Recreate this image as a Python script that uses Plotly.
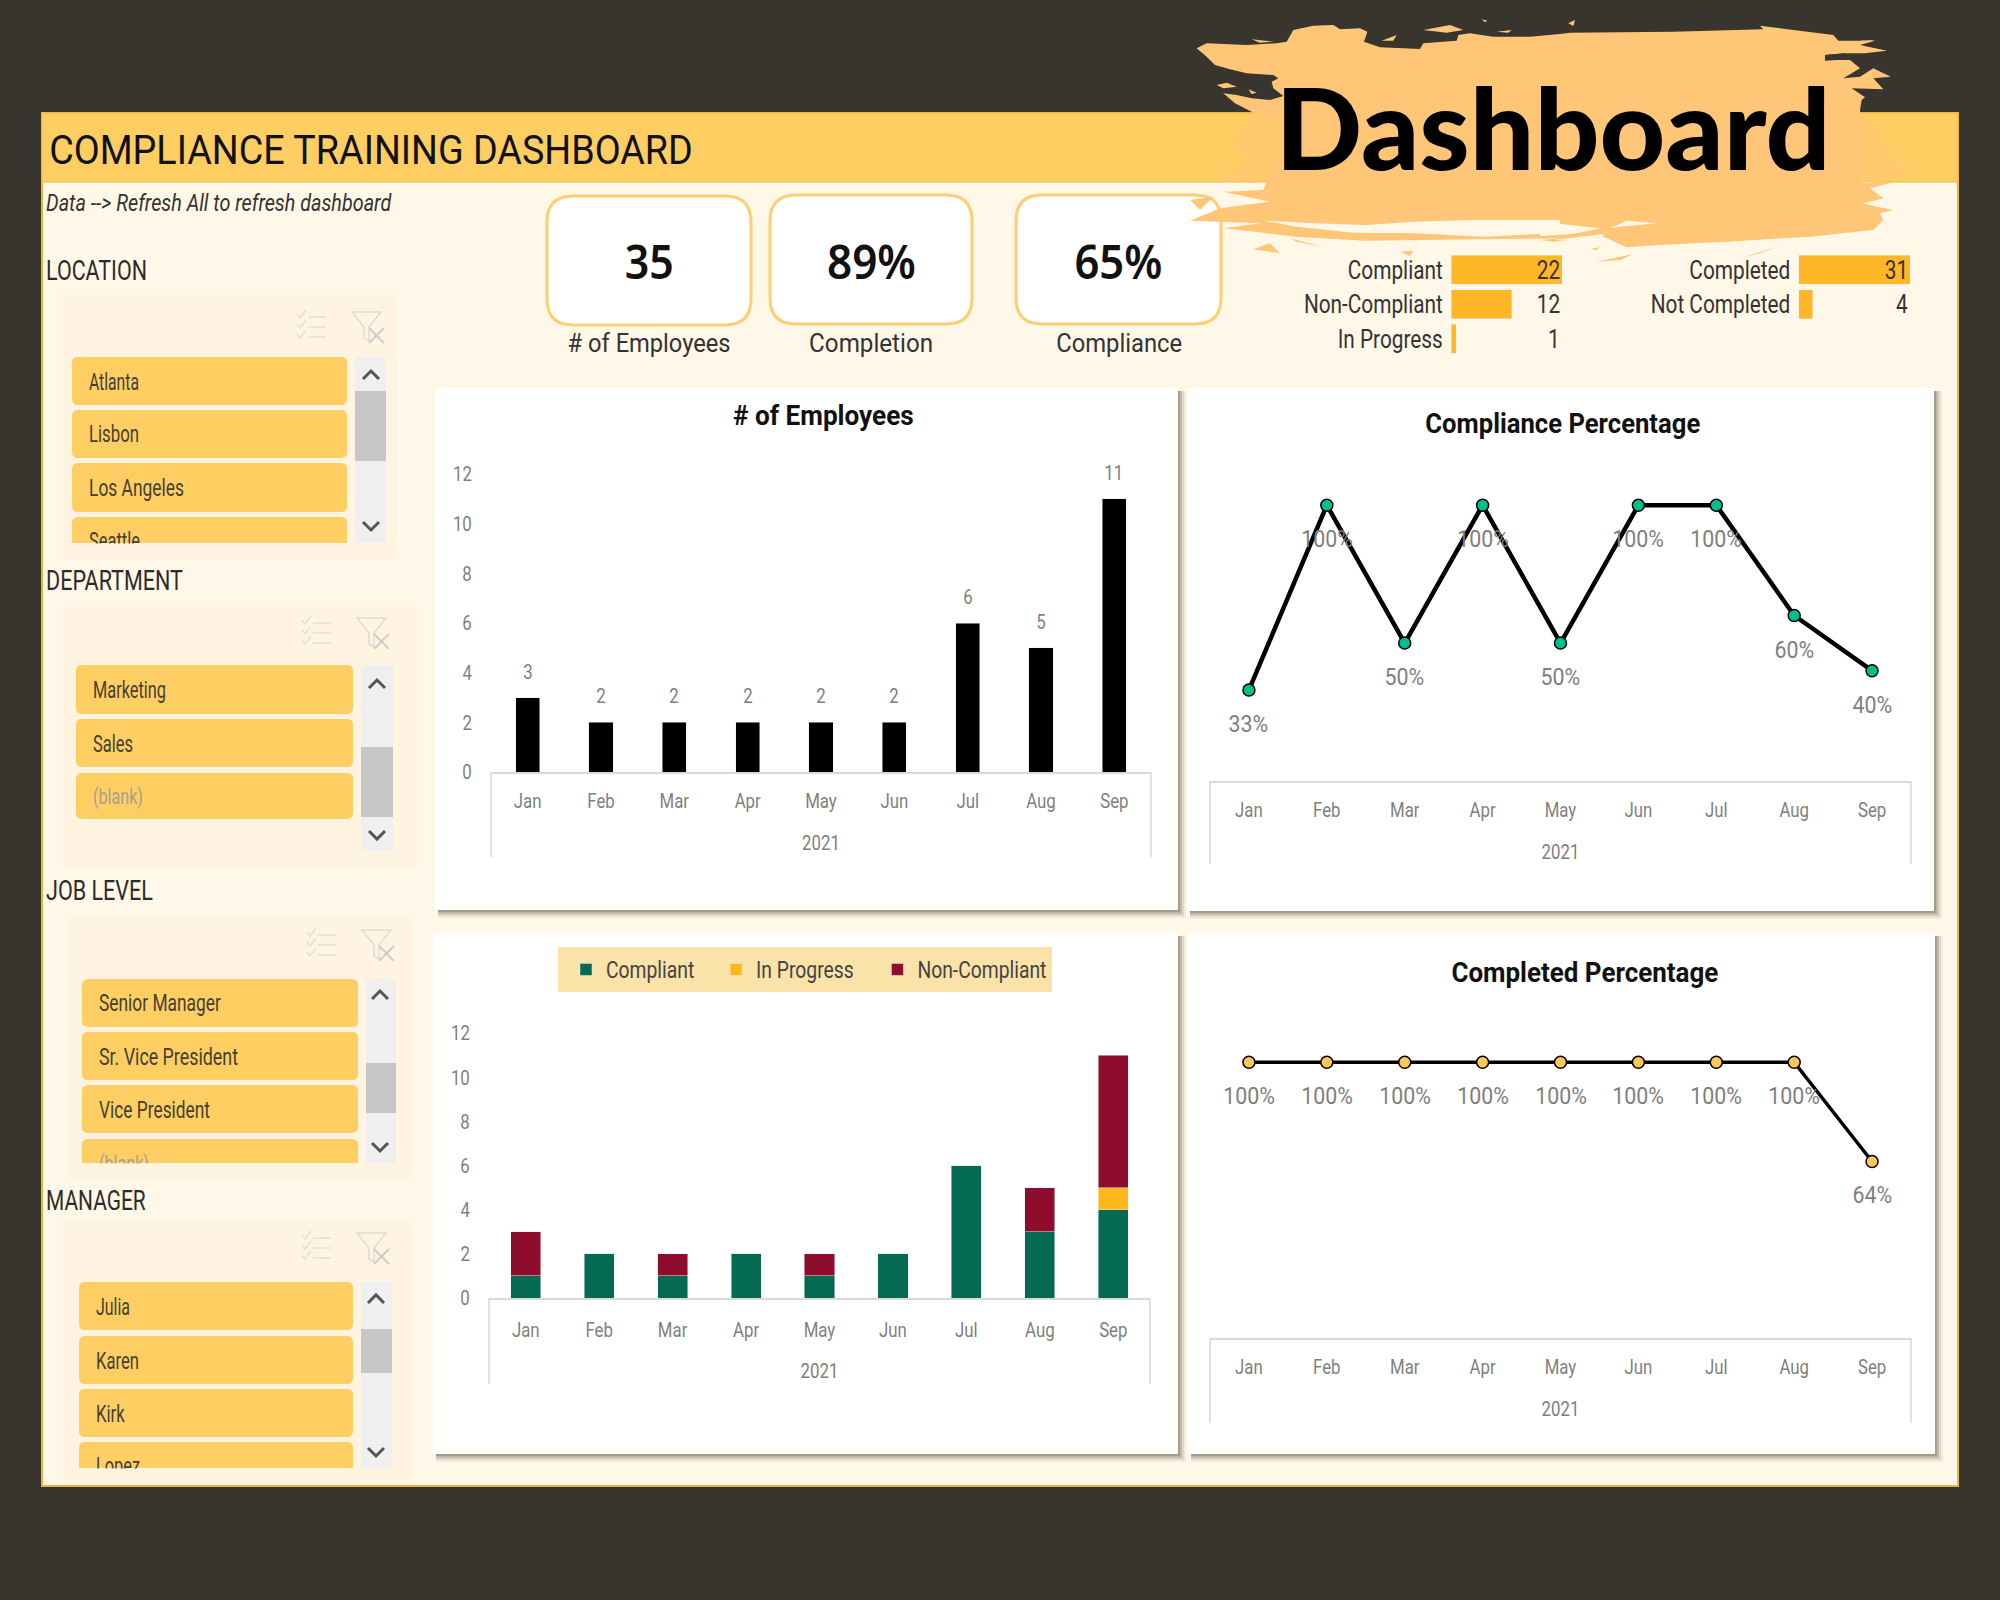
import plotly.graph_objects as go

W, H = 2000, 1600
months = ["Jan", "Feb", "Mar", "Apr", "May", "Jun", "Jul", "Aug", "Sep"]
employees = [3, 2, 2, 2, 2, 2, 6, 5, 11]
compliance_pct = [33, 100, 50, 100, 50, 100, 100, 60, 40]
completed_pct = [100, 100, 100, 100, 100, 100, 100, 100, 64]
compliant = [1, 2, 1, 2, 1, 2, 6, 3, 4]
in_progress = [0, 0, 0, 0, 0, 0, 0, 0, 1]
non_compliant = [2, 0, 1, 0, 1, 0, 0, 2, 6]
status_names = ["Compliant", "Non-Compliant", "In Progress"]
status_values = [22, 12, 1]
completion_names = ["Completed", "Not Completed"]
completion_values = [31, 4]
kpi_values = ["35", "89%", "65%"]
kpi_labels = ["# of Employees", "Completion", "Compliance"]
year = "2021"

NARROW = "Roboto, sans-serif"
BG = "#38352E"; CREAM = "#FFF7E7"; YEL = "#FFCE62"; GREY = "#7F7F7F"; AXL = "#D9D9D9"; BRUSH = "#FFC677"


def X(x):
    return x / W


def Y(y):
    return 1 - y / H


def poly(points, close=True):
    s = "M " + " L ".join(f"{X(a):.5f},{Y(b):.5f}" for a, b in points)
    return s + (" Z" if close else "")


def rrect(x0, y0, x1, y1, r):
    return (f"M {X(x0+r):.5f},{Y(y0):.5f} L {X(x1-r):.5f},{Y(y0):.5f} Q {X(x1):.5f},{Y(y0):.5f} {X(x1):.5f},{Y(y0+r):.5f} "
            f"L {X(x1):.5f},{Y(y1-r):.5f} Q {X(x1):.5f},{Y(y1):.5f} {X(x1-r):.5f},{Y(y1):.5f} "
            f"L {X(x0+r):.5f},{Y(y1):.5f} Q {X(x0):.5f},{Y(y1):.5f} {X(x0):.5f},{Y(y1-r):.5f} "
            f"L {X(x0):.5f},{Y(y0+r):.5f} Q {X(x0):.5f},{Y(y0):.5f} {X(x0+r):.5f},{Y(y0):.5f} Z")


shapes = []
annots = []


def rect(x0, y0, x1, y1, fill, line=None, lw=0, opacity=1):
    shapes.append(dict(type="rect", xref="paper", yref="paper", x0=X(x0), x1=X(x1), y0=Y(y0), y1=Y(y1),
                       fillcolor=fill, line=dict(color=line or fill, width=lw), layer="below", opacity=opacity))


def path(d, fill=None, line=None, lw=0, opacity=1):
    s = dict(type="path", xref="paper", yref="paper", path=d, layer="below", opacity=opacity,
             line=dict(width=lw, color=line or "rgba(0,0,0,0)"))
    if fill:
        s["fillcolor"] = fill
    shapes.append(s)


def txt(x, y, t, size, color="#222222", anchor="left", family=NARROW, width=None, weight=None, italic=False):
    font = dict(size=size, color=color, family=family)
    if weight:
        font["weight"] = weight
    if italic:
        font["style"] = "italic"
    a = dict(xref="paper", yref="paper", x=X(x), y=Y(y), text=t, showarrow=False, xanchor=anchor,
             yanchor="middle", font=font, borderpad=0)
    if width:
        a["name"] = str(width)
    annots.append(a)


# frame
rect(42, 113, 1958, 1486, CREAM, "#EDB23A", 2)
rect(42, 113, 1958, 182, YEL, "#F2B93F", 1)
txt(48, 151, "COMPLIANCE TRAINING DASHBOARD", 40, "#111111", width=644)
txt(45, 203, "Data --&gt; Refresh All to refresh dashboard", 24, "#333333", width=346, italic=True)

# KPI boxes
kpi_boxes = [(547, 196, 751, 325), (770, 195, 972, 324), (1016, 195, 1221, 324)]
kpi_w = [49, 89, 88]
kpi_lw = [163, 124, 126]
for b, v, l, w1, w2 in zip(kpi_boxes, kpi_values, kpi_labels, kpi_w, kpi_lw):
    path(rrect(*b, 26), "#FFFFFF", "#FFCE72", 3)
    cx = (b[0] + b[2]) / 2
    txt(cx, 261, v, 46, "#111111", "center", "Noto Sans, sans-serif", width=w1, weight=600)
    txt(cx, 344, l, 25, "#333333", "center", width=w2)


# brush stroke (outline traced in crop coordinates of the reference)
def L(pts):
    return [(1180 + a / 3, 10 + b / 3) for a, b in pts]


def R(pts):
    return [(1540 + a / 3, 10 + b / 3) for a, b in pts]


path(poly(L([(215, 305), (300, 325), (300, 512), (110, 516), (200, 445), (150, 400)])), BRUSH, opacity=0.55)
path(poly(R([(960, 310), (1020, 360), (1050, 430), (1110, 490), (1020, 515), (965, 515)])), BRUSH, opacity=0.55)
outline = L([(50, 115), (80, 100), (200, 105), (290, 100), (320, 95), (340, 60), (400, 47), (460, 45), (480, 58),
             (540, 55), (562, 65), (552, 95), (600, 112), (720, 117), (730, 100), (830, 92), (835, 75), (870, 70),
             (940, 80), (1050, 80), (1140, 72)]) + \
    R([(90, 68), (400, 65), (670, 58), (660, 47), (760, 60), (880, 75), (895, 92), (960, 92), (1005, 92), (960, 105),
       (1040, 122), (975, 130), (915, 130), (855, 135), (855, 150), (930, 150), (960, 175), (910, 205), (960, 200),
       (1000, 175), (1030, 190), (1050, 200), (1000, 205), (1030, 238), (935, 235), (975, 262), (965, 270), (960, 300),
       (965, 400), (965, 520), (1060, 517), (990, 535), (1030, 565), (970, 580), (1010, 590), (1060, 600), (1020, 610),
       (1030, 630), (1000, 660), (810, 680), (560, 695), (360, 705), (260, 712), (190, 680), (40, 695), (0, 690)]) + \
    L([(1140, 685), (900, 688), (550, 692), (350, 680), (130, 655), (240, 640), (120, 635), (30, 632), (120, 595),
       (270, 575), (130, 545), (250, 540), (262, 510), (300, 400), (290, 330), (215, 305), (165, 280), (130, 250),
       (170, 255), (215, 265), (270, 270), (310, 258), (280, 235), (275, 215), (295, 205), (280, 195), (200, 190),
       (150, 178), (105, 165), (80, 140)])
path(poly(outline), BRUSH)
islands = [L([(110, 225), (140, 218), (170, 230), (130, 235)]), L([(205, 238), (230, 248), (215, 252)]),
           L([(215, 88), (280, 95), (240, 98)]), L([(730, 60), (810, 45), (850, 60), (800, 68)]),
           L([(950, 65), (995, 60), (985, 68)]), L([(905, 28), (922, 32), (915, 37)]),
           L([(605, 92), (650, 75), (640, 92)]), L([(30, 570), (100, 560), (60, 600)]),
           L([(220, 718), (270, 700), (300, 730)]), L([(330, 685), (430, 712), (350, 695)]),
           L([(660, 725), (700, 722), (690, 738)]),
           R([(85, 40), (105, 30), (100, 48)]), R([(960, 92), (1005, 90), (980, 97)]),
           R([(960, 108), (1040, 122), (990, 122)]), R([(150, 716), (180, 712), (170, 720)]),
           R([(170, 755), (280, 732), (240, 750)]), R([(600, 745), (720, 708), (660, 730)]),
           R([(1030, 190), (1052, 200), (1040, 202)])]
for pts in islands:
    path(poly(pts), BRUSH)
cutouts = [L([(250, 632), (400, 640), (560, 645), (700, 635), (880, 630), (1140, 630), (1140, 668), (920, 680),
              (700, 670), (520, 668), (350, 650)]),
           R([(0, 635), (180, 655), (100, 672), (0, 678)]), R([(40, 690), (190, 672), (190, 680), (90, 692)]),
           R([(210, 655), (260, 632), (350, 640), (240, 650)]), R([(880, 685), (990, 675), (960, 685)])]
for pts in cutouts:
    path(poly(pts), CREAM)
dark_bits = [R([(855, 135), (915, 130), (930, 148), (855, 152)])]
for pts in dark_bits:
    path(poly(pts), BG)
txt(1553, 126, "Dashboard", 113, "#000000", "center", "Lato, Noto Sans, sans-serif", width=555, weight=900)


# slicers
def chevron(cx, cy, up):
    d = -1 if up else 1
    path(poly([(cx - 8, cy - 4 * d), (cx, cy + 4 * d), (cx + 8, cy - 4 * d)], False), None, "#555555", 3)


def icons(cx, cy, fx, fy):
    for i in range(3):
        yy = cy + 5 + i * 10
        path(poly([(cx + 11, yy), (cx + 29, yy)], False), None, "#E2E0DA", 1.5)
        path(poly([(cx, yy - 3), (cx + 3, yy + 1), (cx + 9, yy - 7)], False), None, "#E2E0DA", 1.5)
    path(poly([(fx, fy), (fx + 29, fy), (fx + 17, fy + 15), (fx + 17, fy + 29), (fx + 12, fy + 26), (fx + 12, fy + 15)]), None, "#DEDCD6", 1.5)
    path(poly([(fx + 17, fy + 16), (fx + 32, fy + 31)], False), None, "#CFCDC8", 2)
    path(poly([(fx + 32, fy + 16), (fx + 17, fy + 31)], False), None, "#CFCDC8", 2)


slicers = [
    dict(name="LOCATION", nw=101, ly=271, box=(57, 295, 398, 559), bx=(72, 347), tx=88,
         rows=[(357, 405), (410, 458), (463, 512), (517, 543)], items=["Atlanta", "Lisbon", "Los Angeles", "Seattle"],
         w=[50, 50, 95, 51], sb=(355, 386, 357, 543), th=(391, 461), ch=(371, 375, 526), ic=(297, 312, 352, 312)),
    dict(name="DEPARTMENT", nw=137, ly=581, box=(63, 607, 417, 867), bx=(76, 353), tx=92,
         rows=[(665, 714), (719, 767), (773, 819)], items=["Marketing", "Sales", "(blank)"],
         w=[73, 40, 50], sb=(361, 393, 665, 851), th=(747, 817), ch=(377, 684, 835), ic=(302, 618, 357, 618)),
    dict(name="JOB LEVEL", nw=107, ly=891, box=(67, 918, 413, 1178), bx=(82, 358), tx=98,
         rows=[(979, 1027), (1032, 1080), (1085, 1133), (1139, 1163)], items=["Senior Manager", "Sr. Vice President", "Vice President", "(blank)"],
         w=[122, 139, 111, 50], sb=(366, 396, 979, 1163), th=(1063, 1113), ch=(380, 995, 1147), ic=(307, 930, 362, 930)),
    dict(name="MANAGER", nw=100, ly=1201, box=(63, 1220, 413, 1480), bx=(79, 353), tx=95,
         rows=[(1282, 1330), (1336, 1384), (1389, 1437), (1442, 1468)], items=["Julia", "Karen", "Kirk", "Lopez"],
         w=[34, 43, 29, 44], sb=(361, 392, 1282, 1468), th=(1329, 1373), ch=(376, 1299, 1452), ic=(302, 1233, 357, 1233)),
]
for s in slicers:
    txt(45, s["ly"], s["name"], 27, "#2B2B2B", width=s["nw"])
    rect(*s["box"], "#FEF4E1")
    for (y0, y1), it, w in zip(s["rows"], s["items"], s["w"]):
        a, b = s["bx"]
        col = "#A8A090" if it == "(blank)" else "#444033"
        if y1 - y0 < 40:
            d = (f"M {X(a):.5f},{Y(y1):.5f} L {X(a):.5f},{Y(y0+6):.5f} Q {X(a):.5f},{Y(y0):.5f} {X(a+6):.5f},{Y(y0):.5f} "
                 f"L {X(b-6):.5f},{Y(y0):.5f} Q {X(b):.5f},{Y(y0):.5f} {X(b):.5f},{Y(y0+6):.5f} L {X(b):.5f},{Y(y1):.5f} Z")
            path(d, YEL)
            txt(s["tx"], y0 + 24, it, 23, col, width=w)
            # the slicer viewport hides the lower part of the item
            annots.append(dict(xref="paper", yref="paper", x=X(a - 2), y=Y(y1), text="&nbsp;", showarrow=False,
                               xanchor="left", yanchor="top", width=b - a + 4, height=12,
                               bgcolor="#FEF4E1", borderpad=0, font=dict(size=8)))
        else:
            path(rrect(a, y0, b, y1, 6), YEL)
            txt(s["tx"], (y0 + y1) / 2 + 1, it, 23, col, width=w)
    a, b, c, d = s["sb"]
    rect(a, c, b, d, "#EFEFEF")
    rect(a, s["th"][0], b, s["th"][1], "#C6C6C6")
    chevron(s["ch"][0], s["ch"][1], True)
    chevron(s["ch"][0], s["ch"][2], False)
    icons(*s["ic"])

# chart panels
panels = [(435, 388, 1178, 910), (1187, 388, 1934, 911), (433, 933, 1178, 1454), (1188, 933, 1935, 1454)]
for p in panels:
    for off, op in [(8, 0.08), (6, 0.14), (4, 0.25), (2, 0.35)]:
        rect(p[0] + 3, p[1] + 3, p[2] + off, p[3] + off, "#6B6652", None, 0, op)
    rect(*p, "#FFFFFF")

txt(823, 416, "# of Employees", 27, "#111111", "center", width=181, weight=700)
txt(1563, 424, "Compliance Percentage", 27, "#111111", "center", width=275, weight=700)
txt(1585, 973, "Completed Percentage", 27, "#111111", "center", width=267, weight=700)

rect(558, 947, 1052, 992, "#FBE2A8")


def dom_x(a, b):
    return [X(a), X(b)]


def dom_y(top, bot):
    return [Y(bot), Y(top)]


tickf = dict(size=21, color=GREY, family=NARROW)
fig = go.Figure()
fig.add_trace(go.Bar(x=months, y=employees, width=0.33, marker_color="#000000", showlegend=False, xaxis="x", yaxis="y"))
fig.add_trace(go.Scatter(x=months, y=compliance_pct, mode="lines+markers", showlegend=False, xaxis="x2", yaxis="y2",
                         line=dict(color="#000000", width=4.5),
                         marker=dict(size=12, color="#00BF8F", line=dict(color="#000000", width=1.5))))
for name, vals, col in [("Compliant", compliant, "#046B52"), ("In Progress", in_progress, "#FFB81C"),
                        ("Non-Compliant", non_compliant, "#8E0C2C")]:
    fig.add_trace(go.Bar(x=months, y=vals, width=0.41, name=name, marker_color=col, xaxis="x3", yaxis="y3"))
fig.add_trace(go.Scatter(x=months, y=completed_pct, mode="lines+markers", showlegend=False, xaxis="x4", yaxis="y4",
                         line=dict(color="#000000", width=3.5),
                         marker=dict(size=12, color="#FFC65C", line=dict(color="#000000", width=1.5))))
fig.add_trace(go.Bar(x=status_values, y=status_names, orientation="h", width=0.84, marker_color="#FFB627",
                     showlegend=False, xaxis="x5", yaxis="y5"))
fig.add_trace(go.Bar(x=completion_values, y=completion_names, orientation="h", width=0.84, marker_color="#FFB627",
                     showlegend=False, xaxis="x6", yaxis="y6"))


def cat_axis(a, b, ticklen, standoff, anchor):
    return dict(domain=dom_x(a, b), type="category", categoryorder="array", categoryarray=months, showgrid=False,
                zeroline=False, showline=True, linecolor=AXL, linewidth=1.5, ticks="outside", ticklen=ticklen,
                tickcolor="rgba(0,0,0,0)", tickfont=tickf, range=[-0.5, 8.5], fixedrange=True, anchor=anchor,
                title=dict(text=year, font=tickf, standoff=standoff))


def val_axis(top, bot, anchor):
    return dict(domain=dom_y(top, bot), range=[0, 12], dtick=2, showgrid=False, zeroline=False, showline=False,
                ticks="outside", ticklen=14, tickcolor="rgba(0,0,0,0)", tickfont=tickf, fixedrange=True, anchor=anchor)


def hide_y(top, bot, anchor):
    return dict(domain=dom_y(top, bot), range=[0, 120], visible=False, fixedrange=True, anchor=anchor)


def mini_y(top, bot, cats, anchor):
    return dict(domain=dom_y(top, bot), type="category", categoryorder="array", categoryarray=cats,
                range=[len(cats) - 0.5, -0.5], showgrid=False, zeroline=False, showline=False, ticks="outside", ticklen=2,
                tickcolor="rgba(0,0,0,0)", tickfont=dict(size=26, color="#333333", family=NARROW), fixedrange=True, anchor=anchor)


layout = dict(
    width=W, height=H, margin=dict(l=0, r=0, t=0, b=0, autoexpand=False), paper_bgcolor=BG, plot_bgcolor="rgba(0,0,0,0)",
    barmode="stack", font=dict(family=NARROW),
    xaxis=cat_axis(491, 1151, 9, 23, "y"), yaxis=val_axis(474, 772, "x"),
    xaxis2=cat_axis(1210, 1911, 9, 23, "y2"), yaxis2=hide_y(450, 781, "x2"),
    xaxis3=cat_axis(489, 1150, 12, 22, "y3"), yaxis3=val_axis(1033, 1298, "x3"),
    xaxis4=cat_axis(1210, 1911, 9, 23, "y4"), yaxis4=hide_y(1007, 1338, "x4"),
    xaxis5=dict(domain=dom_x(1451, 1562), range=[0, 22], visible=False, fixedrange=True, anchor="y5"),
    yaxis5=mini_y(252.5, 356, status_names, "x5"),
    xaxis6=dict(domain=dom_x(1798.5, 1910), range=[0, 31], visible=False, fixedrange=True, anchor="y6"),
    yaxis6=mini_y(252.5, 321.5, completion_names, "x6"),
    legend=dict(orientation="h", x=X(566), y=Y(948), xanchor="left", yanchor="top", bgcolor="rgba(0,0,0,0)",
                font=dict(size=23, color="#444444", family=NARROW), traceorder="normal", itemclick=False, itemdoubleclick=False),
    showlegend=True,
)

# multi-level axis end marks
for a, b, top, bot in [(491, 1151, 772, 857), (1210, 1911, 781, 864), (489, 1150, 1298, 1384), (1210, 1911, 1338, 1423)]:
    for xx in (a, b):
        shapes.append(dict(type="line", xref="paper", yref="paper", x0=X(xx), x1=X(xx), y0=Y(top), y1=Y(bot),
                           line=dict(color=AXL, width=1.5), layer="below"))

# data labels
lab = dict(showarrow=False, font=dict(size=21, color=GREY, family=NARROW))
pct = dict(showarrow=False, name="k0.89", font=dict(size=24, color=GREY, family=NARROW))
for m, v in zip(months, employees):
    annots.append(dict(x=m, y=v, xref="x", yref="y", text=str(v), yshift=26, **lab))
for m, v in zip(months, compliance_pct):
    annots.append(dict(x=m, y=v, xref="x2", yref="y2", text=f"{v}%", yshift=-34, **pct))
for m, v in zip(months, completed_pct):
    annots.append(dict(x=m, y=v, xref="x4", yref="y4", text=f"{v}%", yshift=-34, **pct))
vf = dict(size=26, color="#333333", family=NARROW)
for n, v in zip(status_names, status_values):
    annots.append(dict(x=1, xref="x5 domain", y=n, yref="y5", text=str(v), showarrow=False, xanchor="right", font=vf))
for n, v in zip(completion_names, completion_values):
    annots.append(dict(x=1, xref="x6 domain", y=n, yref="y6", text=str(v), showarrow=False, xanchor="right", font=vf))

fig.update_layout(**layout, shapes=shapes, annotations=annots)

# The dashboard's condensed typeface is not installed: narrow the real text horizontally about its anchor.
js = """
document.body.style.margin='0';document.body.style.overflow='hidden';
var gd=document.getElementById('{plot_id}');
function sq(t,k,p){var tr=t.getAttribute('transform')||'';t.setAttribute('transform',tr+' translate('+p+',0) scale('+k+',1) translate('+(-p)+',0)');}
gd.querySelectorAll('g.annotation').forEach(function(g){
  var a=gd.layout.annotations[+g.getAttribute('data-index')];var t=g.querySelector('text');
  if(!t||a.text==='&nbsp;')return;var bb=t.getBBox();if(!bb.width)return;
  var k=0.8;
  if(a.name){k=a.name.charAt(0)==='k'?parseFloat(a.name.slice(1)):parseFloat(a.name)/bb.width;}
  var p=a.xanchor==='left'?bb.x:(a.xanchor==='right'?bb.x+bb.width:bb.x+bb.width/2);
  sq(t,k,p);
});
gd.querySelectorAll('svg text').forEach(function(t){
  if(t.closest('g.annotation'))return;var bb=t.getBBox();if(!bb.width)return;
  var anc=t.getAttribute('text-anchor')||t.style.textAnchor||'start';
  var p=anc==='end'?bb.x+bb.width:(anc==='middle'?bb.x+bb.width/2:bb.x);
  var k=t.classList.contains('legendtext')?0.84:0.8;
  sq(t,k,p);
});
"""
fig.write_html("out.html", config=dict(displayModeBar=False), post_script=js)
